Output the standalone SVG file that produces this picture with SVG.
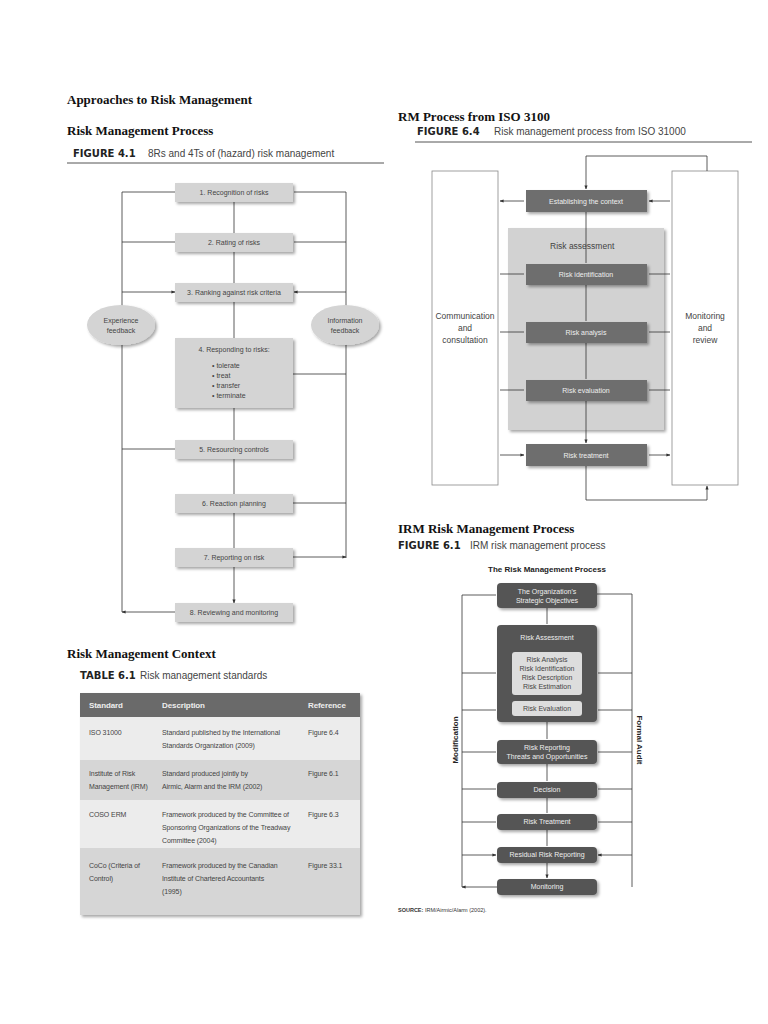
<svg xmlns="http://www.w3.org/2000/svg" width="768" height="1024" viewBox="0 0 768 1024">
<defs>
<marker id="a" viewBox="0 0 10 10" refX="9" refY="5" markerWidth="5" markerHeight="5" orient="auto-start-reverse"><path d="M0,1 L10,5 L0,9 z" fill="#333"/></marker>
<filter id="sh" x="-10%" y="-10%" width="130%" height="140%"><feDropShadow dx="2" dy="2" stdDeviation="1.5" flood-color="#000" flood-opacity="0.35"/></filter>
</defs>
<style>
.h{font-family:"Liberation Serif",serif;font-weight:bold;font-size:13px;fill:#111}
.fig{font-family:"DejaVu Sans",sans-serif;font-weight:bold;font-size:10px;fill:#222}
.cap{font-family:"Liberation Sans",sans-serif;font-size:10px;fill:#444}
.t{font-family:"Liberation Sans",sans-serif;font-size:7px;fill:#444}
.tw{font-family:"Liberation Sans",sans-serif;font-size:7px;fill:#eee}
.tb{font-family:"Liberation Sans",sans-serif;font-size:8.5px;fill:#444}
.lb{fill:#d4d4d4;filter:url(#sh)}
.db{fill:#6e6e6e;filter:url(#sh)}
.ib{fill:#555;filter:url(#sh)}
.ln{stroke:#333;stroke-width:0.8;fill:none}
.ar{stroke:#333;stroke-width:0.8;fill:none;marker-end:url(#a)}
.da{stroke:#333;stroke-width:0.8;fill:none;marker-end:url(#a);marker-start:url(#a)}
</style>
<rect width="768" height="1024" fill="#fff"/>
<text class="h" x="67" y="104">Approaches to Risk Management</text>
<text class="h" x="67" y="135">Risk Management Process</text>
<text class="fig" x="73" y="157">FIGURE 4.1</text><text class="cap" x="148" y="157">8Rs and 4Ts of (hazard) risk management</text>
<line x1="67" y1="163" x2="384" y2="163" stroke="#555"/>

<g id="conn1">
<path class="ln" d="M122,192 V612 M346,192 V558"/>
<path class="ar" d="M122,192 H175 M122,242 H175 M122,292 H175"/>
<path class="ar" d="M346,192 H294 M346,242 H294 M346,292 H294"/>
<path class="ar" d="M293,374 H346 M293,503 H346 M293,557 H346"/>
<path class="ar" d="M175,449 H122 M175,612 H122"/>
<path class="ar" d="M234,202 V233 M234,252 V283 M234,302 V338 M234,408 V440 M234,459 V494 M234,513 V548 M234,567 V603"/>
</g>
<g id="exp"><ellipse cx="121" cy="325" rx="34" ry="20" fill="#d4d4d4" filter="url(#sh)"/><text class="t" x="121" y="323" text-anchor="middle">Experience</text><text class="t" x="121" y="333" text-anchor="middle">feedback</text></g>
<g id="info"><ellipse cx="345" cy="325" rx="34" ry="20" fill="#d4d4d4" filter="url(#sh)"/><text class="t" x="345" y="323" text-anchor="middle">Information</text><text class="t" x="345" y="333" text-anchor="middle">feedback</text></g>
<g id="b1"><rect class="lb" x="175" y="183" width="118" height="19"/><text class="t" x="234" y="195" text-anchor="middle">1. Recognition of risks</text></g>
<g id="b2"><rect class="lb" x="175" y="233" width="118" height="19"/><text class="t" x="234" y="245" text-anchor="middle">2. Rating of risks</text></g>
<g id="b3"><rect class="lb" x="175" y="283" width="118" height="19"/><text class="t" x="234" y="295" text-anchor="middle">3. Ranking against risk criteria</text></g>
<g id="b4"><rect class="lb" x="175" y="338" width="118" height="70"/><text class="t" x="234" y="352" text-anchor="middle">4. Responding to risks:</text>
<text class="t" x="212" y="368">• tolerate</text><text class="t" x="212" y="378">• treat</text><text class="t" x="212" y="388">• transfer</text><text class="t" x="212" y="398">• terminate</text></g>
<g id="b5"><rect class="lb" x="175" y="440" width="118" height="19"/><text class="t" x="234" y="452" text-anchor="middle">5. Resourcing controls</text></g>
<g id="b6"><rect class="lb" x="175" y="494" width="118" height="19"/><text class="t" x="234" y="506" text-anchor="middle">6. Reaction planning</text></g>
<g id="b7"><rect class="lb" x="175" y="548" width="118" height="19"/><text class="t" x="234" y="560" text-anchor="middle">7. Reporting on risk</text></g>
<g id="b8"><rect class="lb" x="175" y="603" width="118" height="19"/><text class="t" x="234" y="615" text-anchor="middle">8. Reviewing and monitoring</text></g>

<text class="h" x="67" y="658">Risk Management Context</text>
<text class="fig" x="80" y="679">TABLE 6.1</text><text class="cap" x="140" y="679">Risk management standards</text>
<g id="table" filter="url(#sh)">
<rect x="80" y="693" width="280" height="24" fill="#6b6b6b"/>
<rect x="80" y="717" width="280" height="43" fill="#ececec"/>
<rect x="80" y="760" width="280" height="40" fill="#d6d6d6"/>
<rect x="80" y="800" width="280" height="48" fill="#ececec"/>
<rect x="80" y="848" width="280" height="67" fill="#d6d6d6"/>
</g>
<g font-family="Liberation Sans,sans-serif" font-size="7" fill="#444" letter-spacing="-0.1">
<text x="89" y="708" fill="#eee" font-weight="bold" font-size="8">Standard</text><text x="162" y="708" fill="#eee" font-weight="bold" font-size="8">Description</text><text x="308" y="708" fill="#eee" font-weight="bold" font-size="8">Reference</text>
<text x="89" y="735">ISO 31000</text><text x="162" y="735">Standard published by the International</text><text x="162" y="748">Standards Organization (2009)</text><text x="308" y="735">Figure 6.4</text>
<text x="89" y="776">Institute of Risk</text><text x="89" y="789">Management (IRM)</text><text x="162" y="776">Standard produced jointly by</text><text x="162" y="789">Airmic, Alarm and the IRM (2002)</text><text x="308" y="776">Figure 6.1</text>
<text x="89" y="817">COSO ERM</text><text x="162" y="817">Framework produced by the Committee of</text><text x="162" y="830">Sponsoring Organizations of the Treadway</text><text x="162" y="843">Committee (2004)</text><text x="308" y="817">Figure 6.3</text>
<text x="89" y="868">CoCo (Criteria of</text><text x="89" y="881">Control)</text><text x="162" y="868">Framework produced by the Canadian</text><text x="162" y="881">Institute of Chartered Accountants</text><text x="162" y="894">(1995)</text><text x="308" y="868">Figure 33.1</text>
</g>

<text class="h" x="398" y="121">RM Process from ISO 3100</text>
<text class="fig" x="417" y="135">FIGURE 6.4</text><text class="cap" x="494" y="135">Risk management process from ISO 31000</text>
<line x1="415" y1="142" x2="752" y2="142" stroke="#555"/>
<g id="comm"><rect x="432" y="171" width="66" height="314" fill="#fff" stroke="#888" stroke-width="0.8"/><text class="tb" x="465" y="319" text-anchor="middle">Communication</text><text class="tb" x="465" y="331" text-anchor="middle">and</text><text class="tb" x="465" y="343" text-anchor="middle">consultation</text></g>
<g id="mon"><rect x="672" y="171" width="66" height="314" fill="#fff" stroke="#888" stroke-width="0.8"/><text class="tb" x="705" y="319" text-anchor="middle">Monitoring</text><text class="tb" x="705" y="331" text-anchor="middle">and</text><text class="tb" x="705" y="343" text-anchor="middle">review</text></g>
<g id="assess"><rect x="508" y="228" width="156" height="202" fill="#d2d2d2" filter="url(#sh)"/><text class="tb" x="550" y="249">Risk assessment</text></g>
<g id="conn2">
<path class="ar" d="M707,171 V156 H586 V189"/>
<path class="ar" d="M586,212 V263 M586,285 V321 M586,343 V379 M586,401 V443"/>
<path class="ar" d="M586,466 V500 H707 V486"/>
<path class="da" d="M500,201 H524 M500,274 H524 M500,332 H524 M500,390 H524 M500,455 H524"/>
<path class="da" d="M649,201 H670 M649,274 H670 M649,332 H670 M649,390 H670 M649,455 H670"/>
</g>
<g id="ctx"><rect class="db" x="526" y="190" width="121" height="22"/><text class="tw" x="586" y="204" text-anchor="middle" font-size="8">Establishing the context</text></g>
<g id="rid"><rect class="db" x="526" y="264" width="121" height="21"/><text class="tw" x="586" y="277" text-anchor="middle" font-size="8">Risk identification</text></g>
<g id="ran"><rect class="db" x="526" y="322" width="121" height="21"/><text class="tw" x="586" y="335" text-anchor="middle" font-size="8">Risk analysis</text></g>
<g id="rev"><rect class="db" x="526" y="380" width="121" height="21"/><text class="tw" x="586" y="393" text-anchor="middle" font-size="8">Risk evaluation</text></g>
<g id="rtr"><rect class="db" x="526" y="444" width="121" height="22"/><text class="tw" x="586" y="458" text-anchor="middle" font-size="8">Risk treatment</text></g>

<text class="h" x="398" y="533">IRM Risk Management Process</text>
<text class="fig" x="398" y="549">FIGURE 6.1</text><text class="cap" x="470" y="549">IRM risk management process</text>
<text x="547" y="572" text-anchor="middle" font-family="Liberation Sans,sans-serif" font-weight="bold" font-size="8" fill="#222">The Risk Management Process</text>
<g id="conn3">
<path class="ln" d="M462,595 V887 M632,594 V887"/>
<path class="ar" d="M597,594 H632 M497,887 H462"/>
<path class="ar" d="M462,595 H496 M462,673 H496 M462,710 H496 M462,752 H496 M462,789 H496 M462,822 H496 M462,855 H496"/>
<path class="ar" d="M632,673 H598 M632,710 H598 M632,752 H598 M632,789 H598 M632,822 H598 M632,855 H598"/>
<path class="ar" d="M547,608 V624 M547,722 V739 M547,764 V781 M547,798 V813 M547,830 V846 M547,863 V878"/>
</g>
<g id="so"><rect class="ib" x="497" y="583" width="100" height="25" rx="4"/><text class="tw" x="547" y="594" text-anchor="middle" font-size="6.5">The Organization's</text><text class="tw" x="547" y="603" text-anchor="middle" font-size="6.5">Strategic Objectives</text></g>
<g id="ra"><rect class="ib" x="497" y="625" width="100" height="97" rx="4"/><text class="tw" x="547" y="640" text-anchor="middle" font-size="6.5">Risk Assessment</text>
<rect x="512" y="652" width="70" height="43" rx="3" fill="#ddd"/><text class="t" x="547" y="662" text-anchor="middle" font-size="6.5">Risk Analysis</text><text class="t" x="547" y="671" text-anchor="middle" font-size="6.5">Risk Identification</text><text class="t" x="547" y="680" text-anchor="middle" font-size="6.5">Risk Description</text><text class="t" x="547" y="689" text-anchor="middle" font-size="6.5">Risk Estimation</text>
<rect x="512" y="701" width="70" height="15" rx="3" fill="#ddd"/><text class="t" x="547" y="711" text-anchor="middle" font-size="6.5">Risk Evaluation</text></g>
<g id="rr"><rect class="ib" x="497" y="740" width="100" height="24" rx="4"/><text class="tw" x="547" y="750" text-anchor="middle" font-size="6.5">Risk Reporting</text><text class="tw" x="547" y="759" text-anchor="middle" font-size="6.5">Threats and Opportunities</text></g>
<g id="dec"><rect class="ib" x="497" y="782" width="100" height="16" rx="4"/><text class="tw" x="547" y="792" text-anchor="middle" font-size="6.5">Decision</text></g>
<g id="rt"><rect class="ib" x="497" y="814" width="100" height="16" rx="4"/><text class="tw" x="547" y="824" text-anchor="middle" font-size="6.5">Risk Treatment</text></g>
<g id="rrr"><rect class="ib" x="497" y="847" width="100" height="16" rx="4"/><text class="tw" x="547" y="857" text-anchor="middle" font-size="6.5">Residual Risk Reporting</text></g>
<g id="mo"><rect class="ib" x="497" y="879" width="100" height="16" rx="4"/><text class="tw" x="547" y="889" text-anchor="middle" font-size="6.5">Monitoring</text></g>
<text transform="translate(458,740) rotate(-90)" text-anchor="middle" font-family="Liberation Sans,sans-serif" font-weight="bold" font-size="8" fill="#222">Modification</text>
<text transform="translate(637,740) rotate(90)" text-anchor="middle" font-family="Liberation Sans,sans-serif" font-weight="bold" font-size="8" fill="#222">Formal Audit</text>
<text x="398" y="912" font-family="Liberation Sans,sans-serif" font-size="5.5" fill="#333"><tspan font-weight="bold">SOURCE:</tspan> IRM/Airmic/Alarm (2002).</text>
</svg>
